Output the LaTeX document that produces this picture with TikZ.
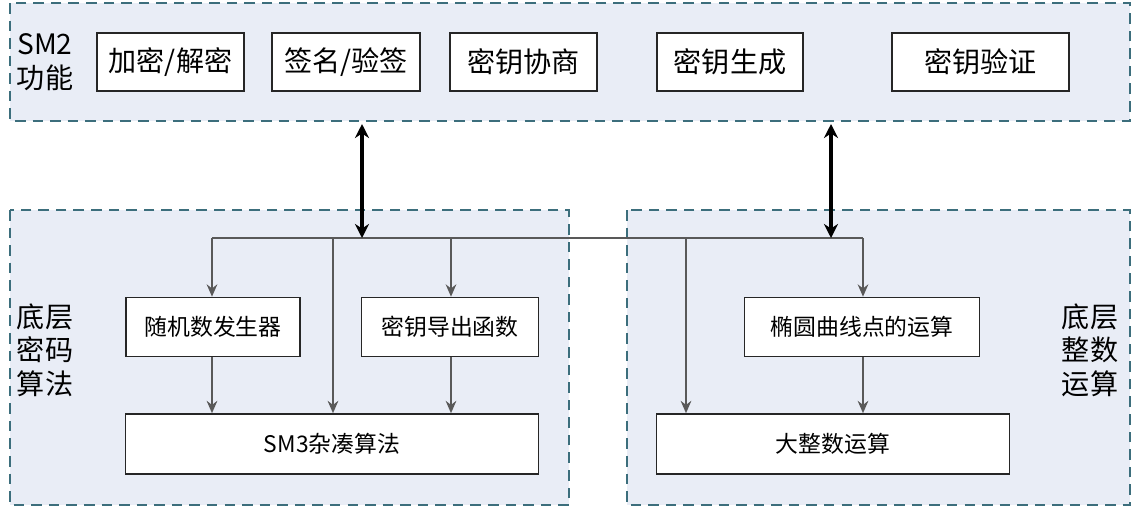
\documentclass[tikz,border=0pt]{standalone}
\usepackage{fontspec}
\setmainfont{Noto Sans CJK SC}
\usepackage{xcolor}
\usetikzlibrary{arrows, arrows.meta}
\usetikzlibrary{positioning}
\usetikzlibrary{calc}
\definecolor{panelfill}{HTML}{E9EDF6}
\definecolor{paneldraw}{HTML}{3C6E7C}
\definecolor{linegray}{HTML}{595959}

\begin{document}
\begin{tikzpicture}[x=0.02cm, y=-0.02cm,
		panel/.style={fill=panelfill, draw=paneldraw, dashed, dash pattern=on 6pt off 4pt, line width=1.2pt},
		box/.style={draw=black!85, line width=0.9pt, fill=white, inner sep=0pt, font=\fontsize{13}{13}\selectfont},
		topbox/.style={box, font=\fontsize{16}{16}\selectfont},
		gray arrow/.style={draw=linegray, line width=1.2pt, -{Stealth[length=7pt, width=6pt]}},
		thick arrow/.style={draw=black, line width=2.5pt, {Stealth[length=8pt, width=8pt]}-{Stealth[length=8pt, width=8pt]}},
		side/.style={font=\fontsize{16}{19}\selectfont, align=center}]
	\useasboundingbox (0,0) rectangle (1143,522);
	% panels
	\draw[panel] (10,3) rectangle (1130,121);
	\draw[panel] (10,210) rectangle (569,505);
	\draw[panel] (627,210) rectangle (1130,505);
	% top functions
	\foreach \xa/\xb/\name/\txt in {97/244/enc/{加密/解密}, 272/420/sig/{签名/验签}, 450/597/agr/密钥协商, 657/803/gen/密钥生成, 892/1069/ver/密钥验证}
	{
		\node[topbox, minimum width={(\xb-\xa)*0.02cm}, minimum height=1.16cm] (\name) at ({(\xa+\xb)/2},62) {\txt};
	}
	\node[side] (sm2) at (45,62) {SM2\\功能};
	\node[side] (lowcrypto) at (45,350) {底层\\密码\\算法};
	\node[side] (lowint) at (1090,350) {底层\\整数\\运算};
	% lower boxes
	\node[box, minimum width=3.48cm, minimum height=1.18cm] (rng) at (213,327) {随机数发生器};
	\node[box, minimum width=3.54cm, minimum height=1.18cm] (kdf) at (450,327) {密钥导出函数};
	\node[box, minimum width=8.26cm, minimum height=1.2cm] (sm3) at (332,444) {SM3杂凑算法};
	\node[box, minimum width=4.7cm, minimum height=1.18cm] (ecc) at (862,327) {椭圆曲线点的运算};
	\node[box, minimum width=7.06cm, minimum height=1.2cm] (bigint) at (833,444) {大整数运算};
	% bus
	\coordinate (busL) at (212,238);
	\coordinate (busR) at (863,238);
	\coordinate (busA) at (362,238);
	\coordinate (busB) at (831,238);
	\draw[draw=linegray, line width=1.2pt] (busL) -- (busR);
	\draw[gray arrow] (busL) -- (busL |- rng.north);
	\draw[gray arrow] (333,238) -- (333,0 |- sm3.north);
	\draw[gray arrow] (451,238) -- (451,0 |- kdf.north);
	\draw[gray arrow] (686,238) -- (686,0 |- bigint.north);
	\draw[gray arrow] (busR) -- (busR |- ecc.north);
	\draw[gray arrow] (212,0 |- rng.south) -- (212,0 |- sm3.north);
	\draw[gray arrow] (451,0 |- kdf.south) -- (451,0 |- sm3.north);
	\draw[gray arrow] (863,0 |- ecc.south) -- (863,0 |- bigint.north);
	% links to SM2
	\draw[thick arrow] (362,124) -- (busA);
	\draw[thick arrow] (831,124) -- (busB);
\end{tikzpicture}
\end{document}
